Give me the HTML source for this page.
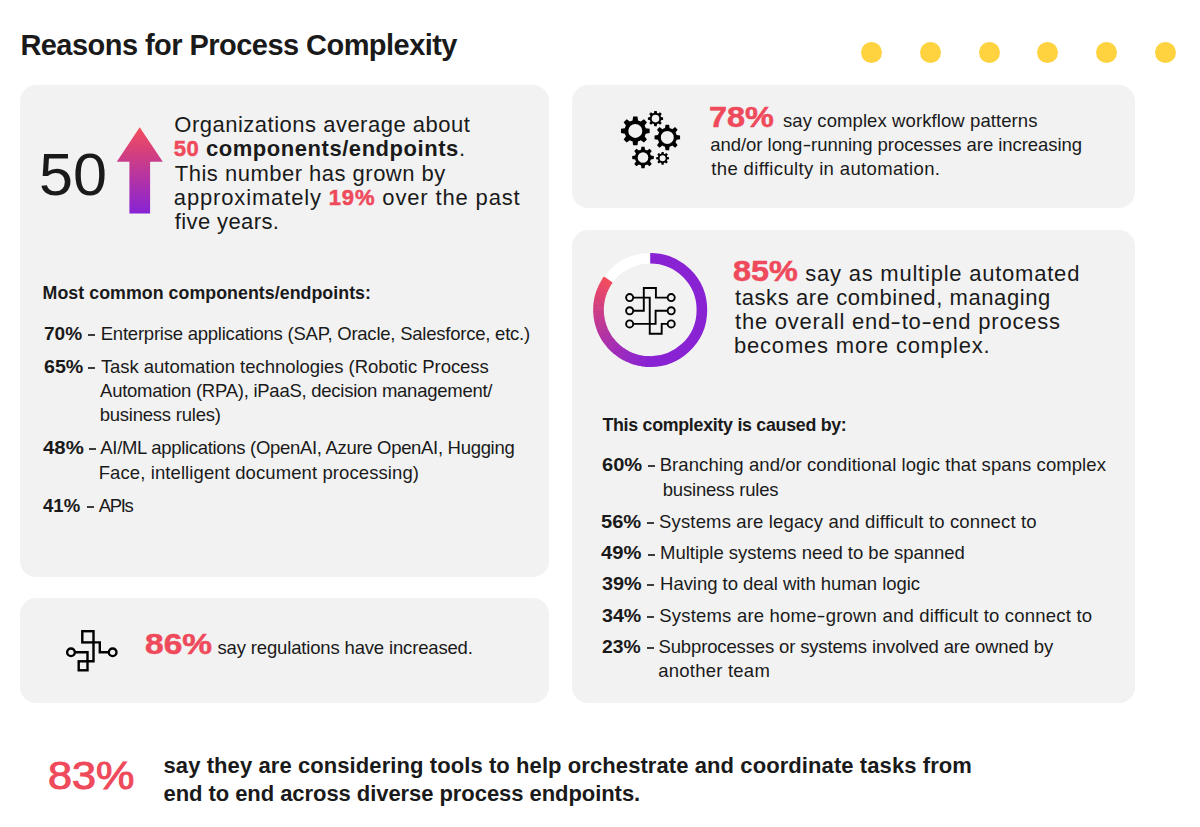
<!DOCTYPE html>
<html><head><meta charset="utf-8"><title>Reasons for Process Complexity</title>
<style>
*{margin:0;padding:0;box-sizing:border-box}
html,body{width:1200px;height:827px;background:#fff;overflow:hidden}
body{position:relative;font-family:"Liberation Sans",sans-serif;color:#1a1a1a}
.c{position:absolute;background:#f2f2f2;border-radius:16px}
.t{position:absolute;white-space:nowrap;line-height:1;font-weight:400}
.b{font-weight:700}
.r{color:#ef4a5b}
.d{position:absolute;width:21.2px;height:21.2px;border-radius:50%;background:#ffd23f}
.hy{display:inline-block;transform:scaleX(1.45);margin:0 1.3px}
.r.b{-webkit-text-stroke:0.5px #ef4a5b}
.bl{display:inline-block;width:0;height:0;vertical-align:baseline}
svg{position:absolute;left:0;top:0}
</style></head><body>

<div class="c" style="left:20px;top:85px;width:529px;height:492px"></div>
<div class="c" style="left:20px;top:598px;width:529px;height:105px"></div>
<div class="c" style="left:572px;top:85px;width:563px;height:123px"></div>
<div class="c" style="left:572px;top:230px;width:563px;height:473px"></div>
<div class="d" style="left:860.9px;top:42.1px"></div>
<div class="d" style="left:919.7px;top:42.1px"></div>
<div class="d" style="left:978.5px;top:42.1px"></div>
<div class="d" style="left:1037.3px;top:42.1px"></div>
<div class="d" style="left:1096.1px;top:42.1px"></div>
<div class="d" style="left:1154.9px;top:42.1px"></div>
<div class="t" id="title" style="left:20.40px;top:30.60px;font-size:29.00px;letter-spacing:-0.545px"><span class="b">Reasons for Process Complexity</span></div>
<div class="t" id="big50" style="left:38.70px;top:145.00px;font-size:59.50px;transform:scaleX(1.0269);transform-origin:0 0"><span>50</span></div>
<div class="t" id="i1" style="left:174.30px;top:114.01px;font-size:22.00px;letter-spacing:0.500px"><span>Organizations average about</span></div>
<div class="t" id="i2" style="left:173.70px;top:138.20px;font-size:22.00px;letter-spacing:0.548px"><span class="b r">50</span><span class="b"> components/endpoints</span><span>.</span></div>
<div class="t" id="i3" style="left:174.85px;top:162.51px;font-size:22.00px;letter-spacing:0.487px"><span>This number has grown by</span></div>
<div class="t" id="i4" style="left:173.85px;top:187.01px;font-size:22.00px;letter-spacing:0.847px"><span>approximately </span><span class="b r">19%</span><span> over the past</span></div>
<div class="t" id="i5" style="left:174.85px;top:211.20px;font-size:22.00px;letter-spacing:0.380px"><span>five years.</span></div>
<div class="t" id="lh" style="left:42.60px;top:285.01px;font-size:17.80px;letter-spacing:0.044px"><span class="b">Most common components/endpoints:</span></div>
<div class="t" id="l1p" style="left:43.60px;top:324.60px;font-size:18.00px;transform:scaleX(1.0581);transform-origin:0 0"><span class="b">70%</span></div>
<div class="t" id="l1" style="left:100.75px;top:324.61px;font-size:18.50px;letter-spacing:-0.230px"><span>Enterprise applications (SAP, Oracle, Salesforce, etc.)</span></div>
<div class="t" id="l2p" style="left:43.60px;top:357.72px;font-size:18.00px;transform:scaleX(1.0906);transform-origin:0 0"><span class="b">65%</span></div>
<div class="t" id="l2" style="left:100.90px;top:357.70px;font-size:18.50px;letter-spacing:-0.041px"><span>Task automation technologies (Robotic Process</span></div>
<div class="t" id="l3" style="left:100.10px;top:382.32px;font-size:18.50px;letter-spacing:-0.259px"><span>Automation (RPA), iPaaS, decision management/</span></div>
<div class="t" id="l4" style="left:99.70px;top:406.40px;font-size:18.50px;letter-spacing:-0.229px"><span>business rules)</span></div>
<div class="t" id="l5p" style="left:43.10px;top:439.30px;font-size:18.00px;transform:scaleX(1.1318);transform-origin:0 0"><span class="b">48%</span></div>
<div class="t" id="l5" style="left:100.30px;top:439.32px;font-size:18.50px;letter-spacing:-0.308px"><span>AI/ML applications (OpenAI, Azure OpenAI, Hugging</span></div>
<div class="t" id="l6" style="left:98.70px;top:464.40px;font-size:18.50px;letter-spacing:0.097px"><span>Face, intelligent document processing)</span></div>
<div class="t" id="l7p" style="left:42.90px;top:497.22px;font-size:18.00px;transform:scaleX(1.0303);transform-origin:0 0"><span class="b">41%</span></div>
<div class="t" id="l7" style="left:98.80px;top:497.20px;font-size:18.50px;letter-spacing:-1.333px"><span>APIs</span></div>
<div class="t" id="p86" style="left:144.80px;top:628.61px;font-size:29.50px;transform:scaleX(1.1356);transform-origin:0 0"><span class="b r">86%</span></div>
<div class="t" id="p86t" style="left:217.50px;top:638.82px;font-size:18.50px;letter-spacing:-0.160px"><span>say regulations have increased.</span></div>
<div class="t" id="p78" style="left:709.30px;top:101.51px;font-size:29.50px;transform:scaleX(1.0982);transform-origin:0 0"><span class="b r">78%</span></div>
<div class="t" id="r1a" style="left:783.00px;top:111.82px;font-size:18.50px;letter-spacing:0.093px"><span>say complex workflow patterns</span></div>
<div class="t" id="r1b" style="left:710.30px;top:135.82px;font-size:18.50px;letter-spacing:-0.047px"><span>and/or long<span class="hy">-</span>running processes are increasing</span></div>
<div class="t" id="r1c" style="left:711.30px;top:160.20px;font-size:18.50px;letter-spacing:0.357px"><span>the difficulty in automation.</span></div>
<div class="t" id="p85" style="left:732.80px;top:255.82px;font-size:29.50px;transform:scaleX(1.0978);transform-origin:0 0"><span class="b r">85%</span></div>
<div class="t" id="r2a" style="left:805.20px;top:262.81px;font-size:22.00px;letter-spacing:0.775px"><span>say as multiple automated</span></div>
<div class="t" id="r2b" style="left:735.00px;top:287.01px;font-size:22.00px;letter-spacing:0.578px"><span>tasks are combined, managing</span></div>
<div class="t" id="r2c" style="left:735.00px;top:311.20px;font-size:22.00px;letter-spacing:0.779px"><span>the overall end<span class="hy">-</span>to<span class="hy">-</span>end process</span></div>
<div class="t" id="r2d" style="left:734.00px;top:335.31px;font-size:22.00px;letter-spacing:0.800px"><span>becomes more complex.</span></div>
<div class="t" id="rh" style="left:602.40px;top:416.61px;font-size:17.80px;letter-spacing:-0.271px"><span class="b">This complexity is caused by:</span></div>
<div class="t" id="k1p" style="left:601.90px;top:456.10px;font-size:18.00px;transform:scaleX(1.1153);transform-origin:0 0"><span class="b">60%</span></div>
<div class="t" id="k1" style="left:659.70px;top:456.11px;font-size:18.50px;letter-spacing:0.077px"><span>Branching and/or conditional logic that spans complex</span></div>
<div class="t" id="k2" style="left:662.70px;top:480.61px;font-size:18.50px;letter-spacing:-0.185px"><span>business rules</span></div>
<div class="t" id="k3p" style="left:600.90px;top:512.60px;font-size:18.00px;transform:scaleX(1.1170);transform-origin:0 0"><span class="b">56%</span></div>
<div class="t" id="k3" style="left:659.10px;top:512.61px;font-size:18.50px;letter-spacing:0.147px"><span>Systems are legacy and difficult to connect to</span></div>
<div class="t" id="k4p" style="left:601.40px;top:544.30px;font-size:18.00px;transform:scaleX(1.1203);transform-origin:0 0"><span class="b">49%</span></div>
<div class="t" id="k4" style="left:660.10px;top:544.32px;font-size:18.50px;letter-spacing:-0.018px"><span>Multiple systems need to be spanned</span></div>
<div class="t" id="k5p" style="left:601.80px;top:575.30px;font-size:18.00px;transform:scaleX(1.0992);transform-origin:0 0"><span class="b">39%</span></div>
<div class="t" id="k5" style="left:660.10px;top:575.32px;font-size:18.50px;letter-spacing:-0.040px"><span>Having to deal with human logic</span></div>
<div class="t" id="k6p" style="left:601.80px;top:606.72px;font-size:18.00px;transform:scaleX(1.0883);transform-origin:0 0"><span class="b">34%</span></div>
<div class="t" id="k6" style="left:659.20px;top:606.70px;font-size:18.50px;letter-spacing:0.204px"><span>Systems are home<span class="hy">-</span>grown and difficult to connect to</span></div>
<div class="t" id="k7p" style="left:601.80px;top:637.72px;font-size:18.00px;transform:scaleX(1.0745);transform-origin:0 0"><span class="b">23%</span></div>
<div class="t" id="k7" style="left:658.50px;top:637.70px;font-size:18.50px;letter-spacing:-0.145px"><span>Subprocesses or systems involved are owned by</span></div>
<div class="t" id="k8" style="left:658.20px;top:661.82px;font-size:18.50px;letter-spacing:0.236px"><span>another team</span></div>
<div class="t" id="p83" style="left:47.75px;top:756.60px;font-size:38.50px;-webkit-text-stroke:1px #ef4a5b;transform:scaleX(1.1214);transform-origin:0 0"><span class="r">83%</span></div>
<div class="t" id="b1" style="left:163.50px;top:755.31px;font-size:22.00px;letter-spacing:0.085px"><span class="b">say they are considering tools to help orchestrate and coordinate tasks from</span></div>
<div class="t" id="b2" style="left:163.50px;top:782.81px;font-size:22.00px;letter-spacing:-0.060px"><span class="b">end to end across diverse process endpoints.</span></div>
<div style="position:absolute;left:88.00px;top:334px;width:7.00px;height:2px;background:#3c3c3c"></div>
<div style="position:absolute;left:88.10px;top:367px;width:7.00px;height:2px;background:#3c3c3c"></div>
<div style="position:absolute;left:88.60px;top:448px;width:7.00px;height:2px;background:#3c3c3c"></div>
<div style="position:absolute;left:87.10px;top:506px;width:6.80px;height:2px;background:#3c3c3c"></div>
<div style="position:absolute;left:647.80px;top:465px;width:7.10px;height:2px;background:#3c3c3c"></div>
<div style="position:absolute;left:646.80px;top:522px;width:7.10px;height:2px;background:#3c3c3c"></div>
<div style="position:absolute;left:647.90px;top:554px;width:6.90px;height:2px;background:#3c3c3c"></div>
<div style="position:absolute;left:647.30px;top:584px;width:6.90px;height:2px;background:#3c3c3c"></div>
<div style="position:absolute;left:647.00px;top:616px;width:7.00px;height:2px;background:#3c3c3c"></div>
<div style="position:absolute;left:646.60px;top:647px;width:7.10px;height:2px;background:#3c3c3c"></div>
<svg width="1200" height="827" viewBox="0 0 1200 827">
<defs>
<linearGradient id="ag" x1="0" y1="127" x2="0" y2="213.5" gradientUnits="userSpaceOnUse"><stop offset="0" stop-color="#f44c5a"/><stop offset="1" stop-color="#8723d6"/></linearGradient>
</defs>
<polygon points="139.7,127.3 162.8,161.7 150.1,161.7 150.1,213.5 129.4,213.5 129.4,161.7 116.8,161.7" fill="url(#ag)"/>

<path fill="#000" fill-rule="evenodd" d="M632.54 120.46L633.14 116.56L637.46 116.56L638.06 120.46A10.80 10.80 0 0 1 640.73 121.57L640.73 121.57L643.91 119.23L646.97 122.29L644.63 125.47A10.80 10.80 0 0 1 645.74 128.14L645.74 128.14L649.64 128.74L649.64 133.06L645.74 133.66A10.80 10.80 0 0 1 644.63 136.33L644.63 136.33L646.97 139.51L643.91 142.57L640.73 140.23A10.80 10.80 0 0 1 638.06 141.34L638.06 141.34L637.46 145.24L633.14 145.24L632.54 141.34A10.80 10.80 0 0 1 629.87 140.23L629.87 140.23L626.69 142.57L623.63 139.51L625.97 136.33A10.80 10.80 0 0 1 624.86 133.66L624.86 133.66L620.96 133.06L620.96 128.74L624.86 128.14A10.80 10.80 0 0 1 625.97 125.47L625.97 125.47L623.63 122.29L626.69 119.23L629.87 121.57A10.80 10.80 0 0 1 632.54 120.46ZM628.30 130.90a7.00 7.00 0 1 0 14.00 0a7.00 7.00 0 1 0 -14.00 0Z"/>
<path fill="#000" fill-rule="evenodd" d="M653.95 113.12L654.28 111.00L656.72 111.00L657.05 113.12A5.70 5.70 0 0 1 658.28 113.62L658.28 113.62L660.02 112.36L661.74 114.08L660.48 115.82A5.70 5.70 0 0 1 660.98 117.05L660.98 117.05L663.10 117.38L663.10 119.81L660.98 120.15A5.70 5.70 0 0 1 660.48 121.38L660.48 121.38L661.74 123.12L660.02 124.84L658.28 123.58A5.70 5.70 0 0 1 657.05 124.08L657.05 124.08L656.72 126.20L654.28 126.20L653.95 124.08A5.70 5.70 0 0 1 652.72 123.58L652.72 123.58L650.98 124.84L649.26 123.12L650.52 121.38A5.70 5.70 0 0 1 650.02 120.15L650.02 120.15L647.90 119.81L647.90 117.38L650.02 117.05A5.70 5.70 0 0 1 650.52 115.82L650.52 115.82L649.26 114.08L650.98 112.36L652.72 113.62A5.70 5.70 0 0 1 653.95 113.12ZM651.70 118.60a3.80 3.80 0 1 0 7.60 0a3.80 3.80 0 1 0 -7.60 0Z"/>
<path fill="#000" fill-rule="evenodd" d="M665.00 128.08L665.50 124.63L669.10 124.63L669.60 128.08A9.60 9.60 0 0 1 672.26 129.18L672.26 129.18L675.06 127.09L677.61 129.64L675.52 132.44A9.60 9.60 0 0 1 676.62 135.10L676.62 135.10L680.07 135.60L680.07 139.20L676.62 139.70A9.60 9.60 0 0 1 675.52 142.36L675.52 142.36L677.61 145.16L675.06 147.71L672.26 145.62A9.60 9.60 0 0 1 669.60 146.72L669.60 146.72L669.10 150.17L665.50 150.17L665.00 146.72A9.60 9.60 0 0 1 662.34 145.62L662.34 145.62L659.54 147.71L656.99 145.16L659.08 142.36A9.60 9.60 0 0 1 657.98 139.70L657.98 139.70L654.53 139.20L654.53 135.60L657.98 135.10A9.60 9.60 0 0 1 659.08 132.44L659.08 132.44L656.99 129.64L659.54 127.09L662.34 129.18A9.60 9.60 0 0 1 665.00 128.08ZM660.80 137.40a6.50 6.50 0 1 0 13.00 0a6.50 6.50 0 1 0 -13.00 0Z"/>
<path fill="#000" fill-rule="evenodd" d="M640.99 149.65L641.42 146.71L644.58 146.71L645.01 149.65A8.10 8.10 0 0 1 647.12 150.53L647.12 150.53L649.51 148.76L651.74 150.99L649.97 153.38A8.10 8.10 0 0 1 650.85 155.49L650.85 155.49L653.79 155.93L653.79 159.07L650.85 159.51A8.10 8.10 0 0 1 649.97 161.62L649.97 161.62L651.74 164.01L649.51 166.24L647.12 164.47A8.10 8.10 0 0 1 645.01 165.35L645.01 165.35L644.58 168.29L641.42 168.29L640.99 165.35A8.10 8.10 0 0 1 638.88 164.47L638.88 164.47L636.49 166.24L634.26 164.01L636.03 161.62A8.10 8.10 0 0 1 635.15 159.51L635.15 159.51L632.21 159.07L632.21 155.93L635.15 155.49A8.10 8.10 0 0 1 636.03 153.38L636.03 153.38L634.26 150.99L636.49 148.76L638.88 150.53A8.10 8.10 0 0 1 640.99 149.65ZM637.70 157.50a5.30 5.30 0 1 0 10.60 0a5.30 5.30 0 1 0 -10.60 0Z"/>
<path fill="#000" fill-rule="evenodd" d="M661.28 153.69L661.57 151.88L663.63 151.88L663.92 153.69A4.80 4.80 0 0 1 664.93 154.10L664.93 154.10L666.41 153.03L667.87 154.49L666.80 155.97A4.80 4.80 0 0 1 667.21 156.98L667.21 156.98L669.02 157.27L669.02 159.34L667.21 159.62A4.80 4.80 0 0 1 666.80 160.63L666.80 160.63L667.87 162.11L666.41 163.57L664.93 162.50A4.80 4.80 0 0 1 663.92 162.91L663.92 162.91L663.63 164.72L661.57 164.72L661.28 162.91A4.80 4.80 0 0 1 660.27 162.50L660.27 162.50L658.79 163.57L657.33 162.11L658.40 160.63A4.80 4.80 0 0 1 657.99 159.62L657.99 159.62L656.18 159.34L656.18 157.27L657.99 156.98A4.80 4.80 0 0 1 658.40 155.97L658.40 155.97L657.33 154.49L658.79 153.03L660.27 154.10A4.80 4.80 0 0 1 661.28 153.69ZM659.60 158.30a3.00 3.00 0 1 0 6.00 0a3.00 3.00 0 1 0 -6.00 0Z"/>
<g fill="none" stroke="#000" stroke-width="1.9" stroke-linejoin="miter" stroke-linecap="butt">
<circle cx="629.65" cy="297.6" r="3.55"/><circle cx="629.65" cy="310.8" r="3.55"/><circle cx="629.65" cy="323.9" r="3.55"/>
<circle cx="671.2" cy="297.6" r="3.55"/><circle cx="671.2" cy="310.8" r="3.55"/><circle cx="671.2" cy="323.9" r="3.55"/>
<polyline points="633.2,310.8 643.8,310.8 643.8,288 655.9,288 655.9,297.6 667.65,297.6"/>
<polyline points="633.2,297.6 649.75,297.6 649.75,333.7 661.7,333.7 661.7,323.9 667.65,323.9"/>
<polyline points="633.2,323.9 655.6,323.9 655.6,310.8 667.65,310.8"/>
</g>
<g fill="none" stroke="#000" stroke-width="2.4" stroke-linejoin="miter" stroke-linecap="butt">
<rect x="82.3" y="631.2" width="11.2" height="11.2"/>
<rect x="78.7" y="661.3" width="8.8" height="9"/>
<circle cx="71" cy="652.3" r="3.85"/><circle cx="112.65" cy="652.3" r="3.85"/>
<polyline points="74.85,652.3 87.5,652.3 87.5,661.3"/>
<polyline points="93.5,642.4 93.5,661.3 87.5,661.3"/>
<polyline points="93.5,642.4 99.8,642.4 99.8,652.3 108.8,652.3"/>
</g>
<path d="M608.37 279.51 A51.70 51.70 0 0 1 650.20 258.20" fill="none" stroke="#fff" stroke-width="10.6"/>
<path d="M650.20 258.20 A51.70 51.70 0 0 1 701.90 309.90 A51.70 51.70 0 0 1 645.69 361.40" fill="none" stroke="#8822d2" stroke-width="10.6"/>
<path d="M650.20 361.60 A51.70 51.70 0 0 1 647.76 361.54" fill="none" stroke="#8822d2" stroke-width="10.6"/>
<path d="M648.31 361.57 A51.70 51.70 0 0 1 645.87 361.42" fill="none" stroke="#8922d1" stroke-width="10.6"/>
<path d="M646.41 361.46 A51.70 51.70 0 0 1 643.99 361.23" fill="none" stroke="#8a23d0" stroke-width="10.6"/>
<path d="M644.53 361.29 A51.70 51.70 0 0 1 642.11 360.96" fill="none" stroke="#8b23cf" stroke-width="10.6"/>
<path d="M642.65 361.05 A51.70 51.70 0 0 1 640.25 360.63" fill="none" stroke="#8c24ce" stroke-width="10.6"/>
<path d="M640.78 360.73 A51.70 51.70 0 0 1 638.39 360.23" fill="none" stroke="#8d24cc" stroke-width="10.6"/>
<path d="M638.92 360.35 A51.70 51.70 0 0 1 636.56 359.77" fill="none" stroke="#8e24cb" stroke-width="10.6"/>
<path d="M637.08 359.91 A51.70 51.70 0 0 1 634.74 359.23" fill="none" stroke="#8f25ca" stroke-width="10.6"/>
<path d="M635.26 359.39 A51.70 51.70 0 0 1 632.94 358.63" fill="none" stroke="#9125c8" stroke-width="10.6"/>
<path d="M633.45 358.81 A51.70 51.70 0 0 1 631.17 357.97" fill="none" stroke="#9226c7" stroke-width="10.6"/>
<path d="M631.67 358.17 A51.70 51.70 0 0 1 629.42 357.24" fill="none" stroke="#9326c5" stroke-width="10.6"/>
<path d="M629.92 357.45 A51.70 51.70 0 0 1 627.70 356.45" fill="none" stroke="#9527c4" stroke-width="10.6"/>
<path d="M628.19 356.68 A51.70 51.70 0 0 1 626.01 355.59" fill="none" stroke="#9628c2" stroke-width="10.6"/>
<path d="M626.49 355.84 A51.70 51.70 0 0 1 624.35 354.67" fill="none" stroke="#9828c1" stroke-width="10.6"/>
<path d="M624.82 354.94 A51.70 51.70 0 0 1 622.73 353.70" fill="none" stroke="#9929bf" stroke-width="10.6"/>
<path d="M623.19 353.98 A51.70 51.70 0 0 1 621.14 352.66" fill="none" stroke="#9b29bd" stroke-width="10.6"/>
<path d="M621.59 352.96 A51.70 51.70 0 0 1 619.59 351.57" fill="none" stroke="#9c2abb" stroke-width="10.6"/>
<path d="M620.03 351.88 A51.70 51.70 0 0 1 618.09 350.42" fill="none" stroke="#9e2bba" stroke-width="10.6"/>
<path d="M618.51 350.75 A51.70 51.70 0 0 1 616.62 349.21" fill="none" stroke="#a02bb8" stroke-width="10.6"/>
<path d="M617.04 349.56 A51.70 51.70 0 0 1 615.21 347.96" fill="none" stroke="#a12cb6" stroke-width="10.6"/>
<path d="M615.61 348.32 A51.70 51.70 0 0 1 613.83 346.65" fill="none" stroke="#a32cb4" stroke-width="10.6"/>
<path d="M614.22 347.03 A51.70 51.70 0 0 1 612.51 345.29" fill="none" stroke="#a52db2" stroke-width="10.6"/>
<path d="M612.88 345.68 A51.70 51.70 0 0 1 611.24 343.89" fill="none" stroke="#a62eb0" stroke-width="10.6"/>
<path d="M611.60 344.29 A51.70 51.70 0 0 1 610.02 342.44" fill="none" stroke="#a82fae" stroke-width="10.6"/>
<path d="M610.36 342.85 A51.70 51.70 0 0 1 608.86 340.94" fill="none" stroke="#aa2fac" stroke-width="10.6"/>
<path d="M609.18 341.37 A51.70 51.70 0 0 1 607.75 339.41" fill="none" stroke="#ac30aa" stroke-width="10.6"/>
<path d="M608.06 339.85 A51.70 51.70 0 0 1 606.69 337.83" fill="none" stroke="#ae31a8" stroke-width="10.6"/>
<path d="M606.99 338.28 A51.70 51.70 0 0 1 605.70 336.22" fill="none" stroke="#af31a6" stroke-width="10.6"/>
<path d="M605.98 336.68 A51.70 51.70 0 0 1 604.77 334.57" fill="none" stroke="#b132a4" stroke-width="10.6"/>
<path d="M605.03 335.04 A51.70 51.70 0 0 1 603.89 332.89" fill="none" stroke="#b333a2" stroke-width="10.6"/>
<path d="M604.13 333.37 A51.70 51.70 0 0 1 603.08 331.18" fill="none" stroke="#b534a0" stroke-width="10.6"/>
<path d="M603.31 331.67 A51.70 51.70 0 0 1 602.33 329.43" fill="none" stroke="#b7349e" stroke-width="10.6"/>
<path d="M602.54 329.93 A51.70 51.70 0 0 1 601.65 327.67" fill="none" stroke="#b9359c" stroke-width="10.6"/>
<path d="M601.84 328.17 A51.70 51.70 0 0 1 601.03 325.88" fill="none" stroke="#bb3699" stroke-width="10.6"/>
<path d="M601.20 326.39 A51.70 51.70 0 0 1 600.48 324.06" fill="none" stroke="#bd3797" stroke-width="10.6"/>
<path d="M600.63 324.58 A51.70 51.70 0 0 1 599.99 322.23" fill="none" stroke="#bf3795" stroke-width="10.6"/>
<path d="M600.12 322.76 A51.70 51.70 0 0 1 599.57 320.38" fill="none" stroke="#c13893" stroke-width="10.6"/>
<path d="M599.69 320.91 A51.70 51.70 0 0 1 599.22 318.52" fill="none" stroke="#c33991" stroke-width="10.6"/>
<path d="M599.32 319.06 A51.70 51.70 0 0 1 598.94 316.65" fill="none" stroke="#c53a8e" stroke-width="10.6"/>
<path d="M599.02 317.18 A51.70 51.70 0 0 1 598.73 314.77" fill="none" stroke="#c73b8c" stroke-width="10.6"/>
<path d="M598.78 315.30 A51.70 51.70 0 0 1 598.59 312.88" fill="none" stroke="#c93b8a" stroke-width="10.6"/>
<path d="M598.62 313.42 A51.70 51.70 0 0 1 598.51 310.98" fill="none" stroke="#cb3c87" stroke-width="10.6"/>
<path d="M598.53 311.52 A51.70 51.70 0 0 1 598.51 309.09" fill="none" stroke="#cd3d85" stroke-width="10.6"/>
<path d="M598.50 309.63 A51.70 51.70 0 0 1 598.57 307.19" fill="none" stroke="#cf3e83" stroke-width="10.6"/>
<path d="M598.55 307.74 A51.70 51.70 0 0 1 598.70 305.30" fill="none" stroke="#d23f80" stroke-width="10.6"/>
<path d="M598.66 305.84 A51.70 51.70 0 0 1 598.91 303.42" fill="none" stroke="#d43f7e" stroke-width="10.6"/>
<path d="M598.84 303.96 A51.70 51.70 0 0 1 599.18 301.55" fill="none" stroke="#d6407c" stroke-width="10.6"/>
<path d="M599.09 302.08 A51.70 51.70 0 0 1 599.52 299.68" fill="none" stroke="#d84179" stroke-width="10.6"/>
<path d="M599.42 300.21 A51.70 51.70 0 0 1 599.93 297.83" fill="none" stroke="#da4277" stroke-width="10.6"/>
<path d="M599.80 298.36 A51.70 51.70 0 0 1 600.40 296.00" fill="none" stroke="#dc4374" stroke-width="10.6"/>
<path d="M600.26 296.52 A51.70 51.70 0 0 1 600.95 294.18" fill="none" stroke="#df4472" stroke-width="10.6"/>
<path d="M600.79 294.70 A51.70 51.70 0 0 1 601.56 292.39" fill="none" stroke="#e1456f" stroke-width="10.6"/>
<path d="M601.38 292.90 A51.70 51.70 0 0 1 602.23 290.62" fill="none" stroke="#e3456d" stroke-width="10.6"/>
<path d="M602.03 291.12 A51.70 51.70 0 0 1 602.97 288.87" fill="none" stroke="#e5466a" stroke-width="10.6"/>
<path d="M602.75 289.37 A51.70 51.70 0 0 1 603.77 287.16" fill="none" stroke="#e84768" stroke-width="10.6"/>
<path d="M603.54 287.64 A51.70 51.70 0 0 1 604.64 285.47" fill="none" stroke="#ea4865" stroke-width="10.6"/>
<path d="M604.38 285.95 A51.70 51.70 0 0 1 605.56 283.82" fill="none" stroke="#ec4963" stroke-width="10.6"/>
<path d="M605.29 284.28 A51.70 51.70 0 0 1 606.55 282.20" fill="none" stroke="#ef4a60" stroke-width="10.6"/>
<path d="M606.26 282.66 A51.70 51.70 0 0 1 607.59 280.62" fill="none" stroke="#f14b5e" stroke-width="10.6"/>
<path d="M607.29 281.06 A51.70 51.70 0 0 1 608.37 279.51" fill="none" stroke="#f34c5b" stroke-width="10.6"/>
</svg>
</body></html>
